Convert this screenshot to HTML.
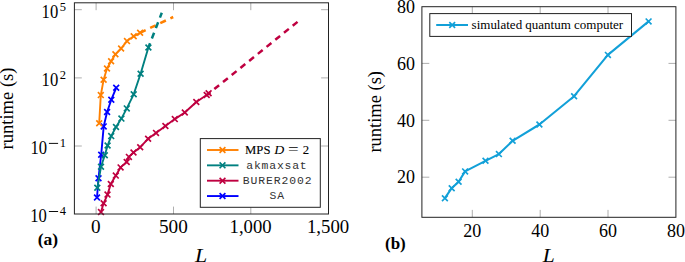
<!DOCTYPE html>
<html><head><meta charset="utf-8"><style>
html,body{margin:0;padding:0;background:#fff;}
body{width:685px;height:262px;overflow:hidden;}
svg{display:block;}
.s{font-family:"Liberation Serif",serif;fill:#000;}
.m{font-family:"Liberation Mono",monospace;fill:#333;}
</style></head><body>
<svg width="685" height="262" viewBox="0 0 685 262">
<line x1="74.4" y1="9.7" x2="81.80000000000001" y2="9.7" stroke="#999" stroke-width="0.8"/>
<line x1="328.5" y1="9.7" x2="321.1" y2="9.7" stroke="#999" stroke-width="0.8"/>
<line x1="74.4" y1="77.9" x2="81.80000000000001" y2="77.9" stroke="#999" stroke-width="0.8"/>
<line x1="328.5" y1="77.9" x2="321.1" y2="77.9" stroke="#999" stroke-width="0.8"/>
<line x1="74.4" y1="146.0" x2="81.80000000000001" y2="146.0" stroke="#999" stroke-width="0.8"/>
<line x1="328.5" y1="146.0" x2="321.1" y2="146.0" stroke="#999" stroke-width="0.8"/>
<line x1="96.1" y1="214.0" x2="96.1" y2="206.6" stroke="#999" stroke-width="0.8"/>
<line x1="96.1" y1="2.8" x2="96.1" y2="10.2" stroke="#999" stroke-width="0.8"/>
<line x1="173.5" y1="214.0" x2="173.5" y2="206.6" stroke="#999" stroke-width="0.8"/>
<line x1="173.5" y1="2.8" x2="173.5" y2="10.2" stroke="#999" stroke-width="0.8"/>
<line x1="250.8" y1="214.0" x2="250.8" y2="206.6" stroke="#999" stroke-width="0.8"/>
<line x1="250.8" y1="2.8" x2="250.8" y2="10.2" stroke="#999" stroke-width="0.8"/>
<polyline points="140.1,32.8 173.2,17.0" stroke="#ff8000" stroke-width="2.5" fill="none" stroke-dasharray="6.2 5.0" stroke-dashoffset="0.05"/>
<polyline points="148.4,47.5 161.8,12.8" stroke="#008080" stroke-width="2.5" fill="none" stroke-dasharray="6.2 5.0" stroke-dashoffset="1.61"/>
<polyline points="207.6,94.5 297.6,21.8" stroke="#bf0040" stroke-width="2.5" fill="none" stroke-dasharray="6.2 5.0" stroke-dashoffset="2.59"/>
<polyline points="97.0,197.5 98.5,178.2 101.2,154.7 103.7,126.4 107.1,112.0 111.3,99.7 116.2,87.8" stroke="#0000ff" stroke-width="1.9" fill="none" stroke-linejoin="round"/>
<path d="M94.10,194.60L99.90,200.40M94.10,200.40L99.90,194.60" stroke="#0000ff" stroke-width="1.65" fill="none"/>
<path d="M95.60,175.30L101.40,181.10M95.60,181.10L101.40,175.30" stroke="#0000ff" stroke-width="1.65" fill="none"/>
<path d="M98.30,151.80L104.10,157.60M98.30,157.60L104.10,151.80" stroke="#0000ff" stroke-width="1.65" fill="none"/>
<path d="M100.80,123.50L106.60,129.30M100.80,129.30L106.60,123.50" stroke="#0000ff" stroke-width="1.65" fill="none"/>
<path d="M104.20,109.10L110.00,114.90M104.20,114.90L110.00,109.10" stroke="#0000ff" stroke-width="1.65" fill="none"/>
<path d="M108.40,96.80L114.20,102.60M108.40,102.60L114.20,96.80" stroke="#0000ff" stroke-width="1.65" fill="none"/>
<path d="M113.30,84.90L119.10,90.70M113.30,90.70L119.10,84.90" stroke="#0000ff" stroke-width="1.65" fill="none"/>
<polyline points="99.2,123.2 100.8,95.1 103.6,79.8 107.0,68.5 111.1,61.3 115.4,54.3 121.1,48.5 127.0,41.1 133.7,36.3 140.1,32.8" stroke="#ff8000" stroke-width="1.9" fill="none" stroke-linejoin="round"/>
<path d="M96.30,120.30L102.10,126.10M96.30,126.10L102.10,120.30" stroke="#ff8000" stroke-width="1.65" fill="none"/>
<path d="M97.90,92.20L103.70,98.00M97.90,98.00L103.70,92.20" stroke="#ff8000" stroke-width="1.65" fill="none"/>
<path d="M100.70,76.90L106.50,82.70M100.70,82.70L106.50,76.90" stroke="#ff8000" stroke-width="1.65" fill="none"/>
<path d="M104.10,65.60L109.90,71.40M104.10,71.40L109.90,65.60" stroke="#ff8000" stroke-width="1.65" fill="none"/>
<path d="M108.20,58.40L114.00,64.20M108.20,64.20L114.00,58.40" stroke="#ff8000" stroke-width="1.65" fill="none"/>
<path d="M112.50,51.40L118.30,57.20M112.50,57.20L118.30,51.40" stroke="#ff8000" stroke-width="1.65" fill="none"/>
<path d="M118.20,45.60L124.00,51.40M118.20,51.40L124.00,45.60" stroke="#ff8000" stroke-width="1.65" fill="none"/>
<path d="M124.10,38.20L129.90,44.00M124.10,44.00L129.90,38.20" stroke="#ff8000" stroke-width="1.65" fill="none"/>
<path d="M130.80,33.40L136.60,39.20M130.80,39.20L136.60,33.40" stroke="#ff8000" stroke-width="1.65" fill="none"/>
<path d="M137.20,29.90L143.00,35.70M137.20,35.70L143.00,29.90" stroke="#ff8000" stroke-width="1.65" fill="none"/>
<polyline points="97.3,187.8 101.0,166.8 104.8,155.3 107.6,145.5 111.2,136.1 116.0,127.0 121.4,118.6 126.8,108.4 133.7,94.3 140.6,73.7 148.4,47.5" stroke="#008080" stroke-width="1.9" fill="none" stroke-linejoin="round"/>
<path d="M94.40,184.90L100.20,190.70M94.40,190.70L100.20,184.90" stroke="#008080" stroke-width="1.65" fill="none"/>
<path d="M98.10,163.90L103.90,169.70M98.10,169.70L103.90,163.90" stroke="#008080" stroke-width="1.65" fill="none"/>
<path d="M101.90,152.40L107.70,158.20M101.90,158.20L107.70,152.40" stroke="#008080" stroke-width="1.65" fill="none"/>
<path d="M104.70,142.60L110.50,148.40M104.70,148.40L110.50,142.60" stroke="#008080" stroke-width="1.65" fill="none"/>
<path d="M108.30,133.20L114.10,139.00M108.30,139.00L114.10,133.20" stroke="#008080" stroke-width="1.65" fill="none"/>
<path d="M113.10,124.10L118.90,129.90M113.10,129.90L118.90,124.10" stroke="#008080" stroke-width="1.65" fill="none"/>
<path d="M118.50,115.70L124.30,121.50M118.50,121.50L124.30,115.70" stroke="#008080" stroke-width="1.65" fill="none"/>
<path d="M123.90,105.50L129.70,111.30M123.90,111.30L129.70,105.50" stroke="#008080" stroke-width="1.65" fill="none"/>
<path d="M130.80,91.40L136.60,97.20M130.80,97.20L136.60,91.40" stroke="#008080" stroke-width="1.65" fill="none"/>
<path d="M137.70,70.80L143.50,76.60M137.70,76.60L143.50,70.80" stroke="#008080" stroke-width="1.65" fill="none"/>
<path d="M145.50,44.60L151.30,50.40M145.50,50.40L151.30,44.60" stroke="#008080" stroke-width="1.65" fill="none"/>
<polyline points="101.0,212.1 103.6,203.3 107.5,194.6 110.8,184.0 115.8,175.6 120.6,167.4 126.7,162.0 128.9,156.9 133.5,152.5 140.2,147.2 148.1,138.8 156.0,132.9 165.4,126.0 174.8,119.1 184.8,112.5 196.3,102.0 206.7,95.0 208.6,93.3" stroke="#bf0040" stroke-width="1.9" fill="none" stroke-linejoin="round"/>
<path d="M98.10,209.20L103.90,215.00M98.10,215.00L103.90,209.20" stroke="#bf0040" stroke-width="1.65" fill="none"/>
<path d="M100.70,200.40L106.50,206.20M100.70,206.20L106.50,200.40" stroke="#bf0040" stroke-width="1.65" fill="none"/>
<path d="M104.60,191.70L110.40,197.50M104.60,197.50L110.40,191.70" stroke="#bf0040" stroke-width="1.65" fill="none"/>
<path d="M107.90,181.10L113.70,186.90M107.90,186.90L113.70,181.10" stroke="#bf0040" stroke-width="1.65" fill="none"/>
<path d="M112.90,172.70L118.70,178.50M112.90,178.50L118.70,172.70" stroke="#bf0040" stroke-width="1.65" fill="none"/>
<path d="M117.70,164.50L123.50,170.30M117.70,170.30L123.50,164.50" stroke="#bf0040" stroke-width="1.65" fill="none"/>
<path d="M123.80,159.10L129.60,164.90M123.80,164.90L129.60,159.10" stroke="#bf0040" stroke-width="1.65" fill="none"/>
<path d="M126.00,154.00L131.80,159.80M126.00,159.80L131.80,154.00" stroke="#bf0040" stroke-width="1.65" fill="none"/>
<path d="M130.60,149.60L136.40,155.40M130.60,155.40L136.40,149.60" stroke="#bf0040" stroke-width="1.65" fill="none"/>
<path d="M137.30,144.30L143.10,150.10M137.30,150.10L143.10,144.30" stroke="#bf0040" stroke-width="1.65" fill="none"/>
<path d="M145.20,135.90L151.00,141.70M145.20,141.70L151.00,135.90" stroke="#bf0040" stroke-width="1.65" fill="none"/>
<path d="M153.10,130.00L158.90,135.80M153.10,135.80L158.90,130.00" stroke="#bf0040" stroke-width="1.65" fill="none"/>
<path d="M162.50,123.10L168.30,128.90M162.50,128.90L168.30,123.10" stroke="#bf0040" stroke-width="1.65" fill="none"/>
<path d="M171.90,116.20L177.70,122.00M171.90,122.00L177.70,116.20" stroke="#bf0040" stroke-width="1.65" fill="none"/>
<path d="M181.90,109.60L187.70,115.40M181.90,115.40L187.70,109.60" stroke="#bf0040" stroke-width="1.65" fill="none"/>
<path d="M193.40,99.10L199.20,104.90M193.40,104.90L199.20,99.10" stroke="#bf0040" stroke-width="1.65" fill="none"/>
<path d="M203.80,92.10L209.60,97.90M203.80,97.90L209.60,92.10" stroke="#bf0040" stroke-width="1.65" fill="none"/>
<path d="M205.70,90.40L211.50,96.20M205.70,96.20L211.50,90.40" stroke="#bf0040" stroke-width="1.65" fill="none"/>
<rect x="74.4" y="2.8" width="254.10" height="211.20" fill="none" stroke="#222" stroke-width="1"/>
<rect x="200.3" y="138.6" width="120.0" height="68.7" fill="#fff" stroke="#222" stroke-width="1"/>
<line x1="207" y1="150.00" x2="238.5" y2="150.00" stroke="#ff8000" stroke-width="1.9"/>
<path d="M219.60,147.10L225.40,152.90M219.60,152.90L225.40,147.10" stroke="#ff8000" stroke-width="1.65" fill="none"/>
<line x1="207" y1="165.35" x2="238.5" y2="165.35" stroke="#008080" stroke-width="1.9"/>
<path d="M219.60,162.45L225.40,168.25M219.60,168.25L225.40,162.45" stroke="#008080" stroke-width="1.65" fill="none"/>
<line x1="207" y1="180.70" x2="238.5" y2="180.70" stroke="#bf0040" stroke-width="1.9"/>
<path d="M219.60,177.80L225.40,183.60M219.60,183.60L225.40,177.80" stroke="#bf0040" stroke-width="1.65" fill="none"/>
<line x1="207" y1="196.05" x2="238.5" y2="196.05" stroke="#0000ff" stroke-width="1.9"/>
<path d="M219.60,193.15L225.40,198.95M219.60,198.95L225.40,193.15" stroke="#0000ff" stroke-width="1.65" fill="none"/>
<text x="245.1" y="153.5" class="s" font-size="13.5" stroke="#000" stroke-width="0.12" textLength="25.4" lengthAdjust="spacingAndGlyphs">MPS</text>
<text x="274.3" y="153.5" class="s" font-size="13.5" font-style="italic" textLength="10" lengthAdjust="spacingAndGlyphs">D</text>
<text x="288.1" y="153.5" class="s" font-size="15" textLength="10.6" lengthAdjust="spacingAndGlyphs">=</text>
<text x="302.8" y="153.5" class="s" font-size="13.5" stroke="#000" stroke-width="0.12" textLength="6.4" lengthAdjust="spacingAndGlyphs">2</text>
<text x="276.5" y="169.3" text-anchor="middle" class="m" font-size="11.4" textLength="60.4">akmaxsat</text>
<text x="277.1" y="184.4" text-anchor="middle" class="m" font-size="11.4" textLength="68.9">BURER2002</text>
<text x="276.8" y="199.4" text-anchor="middle" class="m" font-size="11.4" textLength="14.7">SA</text>
<text x="41.6" y="17.50" class="s" font-size="18" textLength="16.6" lengthAdjust="spacingAndGlyphs">10</text><text x="65.9" y="10.60" text-anchor="end" class="s" font-size="12.5">5</text>
<text x="41.6" y="85.70" class="s" font-size="18" textLength="16.6" lengthAdjust="spacingAndGlyphs">10</text><text x="65.9" y="78.80" text-anchor="end" class="s" font-size="12.5">2</text>
<text x="30.4" y="153.80" class="s" font-size="18" textLength="16.6" lengthAdjust="spacingAndGlyphs">10</text><text x="65.9" y="146.90" text-anchor="end" class="s" font-size="12.5">1</text>
<text x="30.2" y="221.90" class="s" font-size="18" textLength="16.6" lengthAdjust="spacingAndGlyphs">10</text><text x="65.9" y="215.00" text-anchor="end" class="s" font-size="12.5">4</text>
<line x1="48.9" y1="143.40" x2="58.1" y2="143.40" stroke="#000" stroke-width="0.95"/>
<line x1="48.9" y1="211.50" x2="58.1" y2="211.50" stroke="#000" stroke-width="0.95"/>
<text x="90.9" y="233.2" class="s" font-size="18" textLength="9.6" lengthAdjust="spacingAndGlyphs">0</text>
<text x="159.0" y="233.2" class="s" font-size="18" textLength="28.8" lengthAdjust="spacingAndGlyphs">500</text>
<text x="229.6" y="233.2" class="s" font-size="18" textLength="42.0" lengthAdjust="spacingAndGlyphs">1,000</text>
<text x="306.9" y="233.2" class="s" font-size="18" textLength="42.3" lengthAdjust="spacingAndGlyphs">1,500</text>
<text transform="translate(12.8,149.5) rotate(-90)" x="0" y="0" class="s" font-size="18" textLength="82" lengthAdjust="spacingAndGlyphs">runtime (s)</text>
<text x="195.0" y="261.7" class="s" font-size="18" font-style="italic" textLength="12.2" lengthAdjust="spacingAndGlyphs">L</text>
<text x="37.7" y="245.4" class="s" font-size="17.5" font-weight="bold">(a)</text>
<line x1="421.9" y1="63.4" x2="429.29999999999995" y2="63.4" stroke="#999" stroke-width="0.8"/>
<line x1="675.9" y1="63.4" x2="668.5" y2="63.4" stroke="#999" stroke-width="0.8"/>
<line x1="421.9" y1="120.3" x2="429.29999999999995" y2="120.3" stroke="#999" stroke-width="0.8"/>
<line x1="675.9" y1="120.3" x2="668.5" y2="120.3" stroke="#999" stroke-width="0.8"/>
<line x1="421.9" y1="177.2" x2="429.29999999999995" y2="177.2" stroke="#999" stroke-width="0.8"/>
<line x1="675.9" y1="177.2" x2="668.5" y2="177.2" stroke="#999" stroke-width="0.8"/>
<line x1="472.3" y1="217.3" x2="472.3" y2="209.9" stroke="#999" stroke-width="0.8"/>
<line x1="472.3" y1="6.7" x2="472.3" y2="14.100000000000001" stroke="#999" stroke-width="0.8"/>
<line x1="540.2" y1="217.3" x2="540.2" y2="209.9" stroke="#999" stroke-width="0.8"/>
<line x1="540.2" y1="6.7" x2="540.2" y2="14.100000000000001" stroke="#999" stroke-width="0.8"/>
<line x1="608.0" y1="217.3" x2="608.0" y2="209.9" stroke="#999" stroke-width="0.8"/>
<line x1="608.0" y1="6.7" x2="608.0" y2="14.100000000000001" stroke="#999" stroke-width="0.8"/>
<polyline points="444.9,198.2 451.7,188.2 458.6,181.8 465.1,171.4 485.5,160.8 498.9,154.1 512.6,140.8 539.4,124.5 574.1,96.2 607.9,54.9 648.6,21.4" stroke="#12a0d8" stroke-width="2.05" fill="none" stroke-linejoin="round"/>
<path d="M442.00,195.30L447.80,201.10M442.00,201.10L447.80,195.30" stroke="#12a0d8" stroke-width="1.65" fill="none"/>
<path d="M448.80,185.30L454.60,191.10M448.80,191.10L454.60,185.30" stroke="#12a0d8" stroke-width="1.65" fill="none"/>
<path d="M455.70,178.90L461.50,184.70M455.70,184.70L461.50,178.90" stroke="#12a0d8" stroke-width="1.65" fill="none"/>
<path d="M462.20,168.50L468.00,174.30M462.20,174.30L468.00,168.50" stroke="#12a0d8" stroke-width="1.65" fill="none"/>
<path d="M482.60,157.90L488.40,163.70M482.60,163.70L488.40,157.90" stroke="#12a0d8" stroke-width="1.65" fill="none"/>
<path d="M496.00,151.20L501.80,157.00M496.00,157.00L501.80,151.20" stroke="#12a0d8" stroke-width="1.65" fill="none"/>
<path d="M509.70,137.90L515.50,143.70M509.70,143.70L515.50,137.90" stroke="#12a0d8" stroke-width="1.65" fill="none"/>
<path d="M536.50,121.60L542.30,127.40M536.50,127.40L542.30,121.60" stroke="#12a0d8" stroke-width="1.65" fill="none"/>
<path d="M571.20,93.30L577.00,99.10M571.20,99.10L577.00,93.30" stroke="#12a0d8" stroke-width="1.65" fill="none"/>
<path d="M605.00,52.00L610.80,57.80M605.00,57.80L610.80,52.00" stroke="#12a0d8" stroke-width="1.65" fill="none"/>
<path d="M645.70,18.50L651.50,24.30M645.70,24.30L651.50,18.50" stroke="#12a0d8" stroke-width="1.65" fill="none"/>
<rect x="421.9" y="6.7" width="254.00" height="210.60" fill="none" stroke="#222" stroke-width="1"/>
<rect x="429.8" y="13.6" width="201.7" height="22.8" fill="#fff" stroke="#222" stroke-width="1"/>
<line x1="436.2" y1="25.0" x2="468" y2="25.0" stroke="#12a0d8" stroke-width="2.05"/>
<path d="M449.30,22.10L455.10,27.90M449.30,27.90L455.10,22.10" stroke="#12a0d8" stroke-width="1.65" fill="none"/>
<text x="471.6" y="28.6" class="s" font-size="13" textLength="151.5">simulated quantum computer</text>
<text x="415" y="12.90" text-anchor="end" class="s" font-size="18">80</text>
<text x="415" y="69.60" text-anchor="end" class="s" font-size="18">60</text>
<text x="415" y="126.50" text-anchor="end" class="s" font-size="18">40</text>
<text x="415" y="183.40" text-anchor="end" class="s" font-size="18">20</text>
<text x="472.3" y="236.6" text-anchor="middle" class="s" font-size="18">20</text>
<text x="540.2" y="236.6" text-anchor="middle" class="s" font-size="18">40</text>
<text x="608.0" y="236.6" text-anchor="middle" class="s" font-size="18">60</text>
<text x="676.0" y="236.6" text-anchor="middle" class="s" font-size="18">80</text>
<text transform="translate(380.9,152.6) rotate(-90)" x="0" y="0" class="s" font-size="18" textLength="81.6" lengthAdjust="spacingAndGlyphs">runtime (s)</text>
<text x="542.8" y="261.7" class="s" font-size="18" font-style="italic" textLength="12.0" lengthAdjust="spacingAndGlyphs">L</text>
<text x="385" y="248.9" class="s" font-size="17" font-weight="bold">(b)</text>
</svg>
</body></html>
